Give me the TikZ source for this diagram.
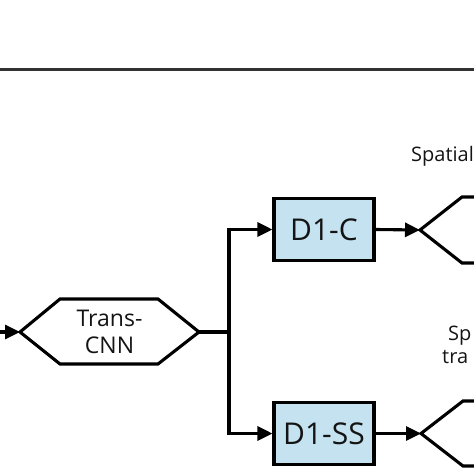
\documentclass[tikz,border=0pt]{standalone}
\usepackage{fontspec}
\setmainfont{Open Sans}
\usetikzlibrary{arrows.meta}
\definecolor{boxblue}{RGB}{196,226,240}
\definecolor{rulegray}{RGB}{50,50,50}
\definecolor{txt}{RGB}{20,20,20}
\begin{document}
\begin{tikzpicture}[x=1pt,y=-1pt,
  conn/.style={line width=3.1pt,line join=miter,-{Triangle[length=15pt,width=14pt]}},
  plainline/.style={line width=3.1pt},
  hexline/.style={line width=3.1pt,line join=miter},
  dbox/.style={draw=black,line width=3.1pt,fill=boxblue,minimum width=100pt,minimum height=62pt,inner sep=0pt,font=\fontsize{30}{34}\selectfont,text=txt},
  lbl/.style={inner sep=0pt,anchor=base west,font=\fontsize{20}{22}\selectfont,text=txt}]
\useasboundingbox (0,0) rectangle (474,474);
% top rule
\coordinate (rl) at (-5,69.5);
\coordinate (rr) at (480,69.5);
\draw[line width=2.5pt,rulegray] (rl) -- (rr);
% Trans-CNN hexagon
\coordinate (tw) at (20,332);
\coordinate (te) at (199,332);
\node[inner sep=0pt,align=center,font=\fontsize{23}{27}\selectfont,text=txt] (tc) at (109.5,332) {Trans-\\CNN};
\draw[hexline] (tw) -- (60,299) -- (158,299) -- (te) -- (158,364) -- (60,364) -- cycle;
\coordinate (in) at (-5,332);
\draw[conn] (in) -- (tw);
% fork
\coordinate (fk) at (229,332);
\node[dbox] (d1c) at (324,229.5) {D1-C};
\node[dbox] (d1s) at (324,433.5) {D1-SS};
\draw[plainline] (te) -- (fk);
\draw[conn] (fk) |- (d1c.west);
\draw[conn] (fk) |- (d1s.west);
% right hexagons
\coordinate (h2w) at (420,230);
\draw[hexline] (490,197) -- (462,197) -- (h2w) -- (462,263) -- (490,263);
\coordinate (h3w) at (421,433.5);
\draw[hexline] (490,401) -- (463,401) -- (h3w) -- (463,466) -- (490,466);
\draw[conn] (d1c.east) -- (h2w);
\draw[conn] (d1s.east) -- (h3w);
% labels
\node[lbl] (sp1) at (411,161) {Spatial};
\node[lbl] (sp2) at (448,340.5) {Sp};
\node[lbl] (sp3) at (442,363) {tra};
\end{tikzpicture}
\end{document}
